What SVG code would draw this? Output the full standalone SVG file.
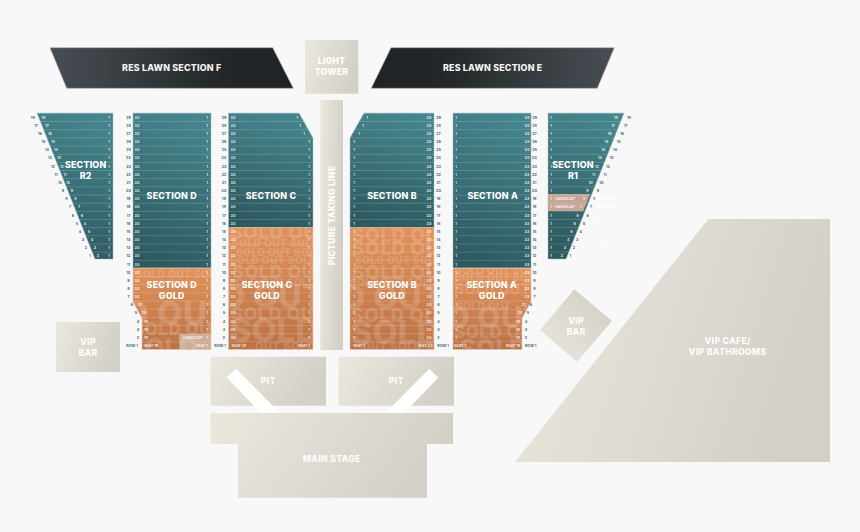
<svg xmlns="http://www.w3.org/2000/svg" width="860" height="532" viewBox="0 0 860 532">
<style>
text{font-family:"Inter","Open Sans","Liberation Sans",sans-serif;font-weight:800;text-anchor:middle}
.l{fill:#fff;font-size:8.9px;letter-spacing:.2px}
.s{fill:#fff;font-size:8.6px;letter-spacing:.3px}
.d{fill:#fff;opacity:.95;font-size:8.7px;letter-spacing:.3px}
.rl{fill:#f4f4f2;font-size:8.9px;letter-spacing:.2px}
.so{fill:#fff;opacity:.15;font-weight:800;text-anchor:start;letter-spacing:.5px}
.o text{fill:#4a6a70;font-size:3.7px;font-weight:700}
.i text{fill:#fff;font-size:3.7px;font-weight:700;opacity:.8}
.f text{fill:#fff;font-size:3.7px;font-weight:700}
.t{fill:url(#teal);stroke:#9cbcc0;stroke-width:.5}
.g{fill:url(#gold);stroke:#ecc6aa;stroke-width:.5}
.b{fill:url(#beige)}
.lines{fill:url(#rows)}
</style>
<defs>
<linearGradient id="teal" x1=".6" y1="0" x2=".4" y2="1"><stop offset="0" stop-color="#45858d"/><stop offset="1" stop-color="#2d595f"/></linearGradient>
<linearGradient id="gold" x1=".5" y1="0" x2=".5" y2="1"><stop offset="0" stop-color="#e1925c"/><stop offset="1" stop-color="#bc7346"/></linearGradient>
<linearGradient id="beige" x1="0" y1="0" x2="1" y2=".25"><stop offset="0" stop-color="#ebe9de"/><stop offset="1" stop-color="#d3d0c8"/></linearGradient>
<linearGradient id="beige2" x1="0" y1="1" x2="1" y2="0"><stop offset="0" stop-color="#ebe9de"/><stop offset="1" stop-color="#cfccc4"/></linearGradient>
<linearGradient id="lawnF" x1="0" y1="0" x2="1" y2="0"><stop offset="0" stop-color="#474e53"/><stop offset=".7" stop-color="#232729"/><stop offset="1" stop-color="#202325"/></linearGradient>
<linearGradient id="lawnE" x1="0" y1="0" x2="1" y2="0"><stop offset="0" stop-color="#202325"/><stop offset=".3" stop-color="#232729"/><stop offset="1" stop-color="#474e53"/></linearGradient>
<pattern id="rows" patternUnits="userSpaceOnUse" width="10" height="8.16" y="6.86"><rect width="10" height=".6" fill="#fff" fill-opacity=".26"/></pattern>
<clipPath id="cD"><polygon points="133,268 211,268 211,349.5 142,349.5 142,318 133,302"/></clipPath>
<clipPath id="cC"><rect x="228.5" y="227.5" width="84.5" height="122"/></clipPath>
<clipPath id="cB"><rect x="350" y="227.5" width="84" height="122"/></clipPath>
<clipPath id="cA"><polygon points="453,268 531,268 531,302 522,318 522,349.5 453,349.5"/></clipPath>
</defs>
<rect width="860" height="532" fill="#f8f8f8"/>

<g id="lawn-f"><polygon points="50,47.7 272.7,47.7 293.3,88.3 66.7,88.3" fill="url(#lawnF)" stroke="#a9abac" stroke-width=".6"/><text class="rl" x="171.7" y="70.7">RES LAWN SECTION F</text></g>
<g id="lawn-e"><polygon points="391,47.7 614.3,47.7 597.3,88.3 371.3,88.3" fill="url(#lawnE)" stroke="#a9abac" stroke-width=".6"/><text class="rl" x="492.7" y="70.7">RES LAWN SECTION E</text></g>
<g id="light-tower"><rect class="b" x="305" y="40" width="53.3" height="53.7"/><text class="s" x="331.5" y="64">LIGHT</text><text class="s" x="331.5" y="74.7">TOWER</text></g>
<g id="picture-line"><rect class="b" x="320.3" y="100" width="22.7" height="250"/><text class="s" transform="translate(335.3 215.5) rotate(-90)" x="0" y="0">PICTURE TAKING LINE</text></g>

<g id="section-r2"><polygon class="t" points="37,113 113,113 113,259 95,259"/><polygon class="lines" points="37,113 113,113 113,259 95,259"/><text class="l" x="85.7" y="168">SECTION</text><text class="l" x="85.7" y="178.5">R2</text>
<g class="o"><text x="32.8" y="118.6">18</text><text x="36" y="126.8">17</text><text x="40" y="134.9">16</text><text x="43.5" y="143.1">15</text><text x="47" y="151.2">14</text><text x="50" y="159.4">13</text><text x="53" y="167.6">12</text><text x="56" y="175.7">11</text><text x="60" y="183.9">10</text><text x="63" y="192">9</text><text x="66.5" y="200.2">8</text><text x="70" y="208.4">7</text><text x="73" y="216.5">6</text><text x="77" y="224.7">5</text><text x="80" y="232.8">4</text><text x="83" y="241">3</text><text x="86" y="249.2">2</text><text x="90" y="257.3">1</text></g>
<g class="i"><text x="43.5" y="118.6">18</text><text x="47" y="126.8">17</text><text x="50" y="134.9">16</text><text x="53" y="143.1">15</text><text x="56" y="151.2">14</text><text x="59" y="159.4">13</text><text x="62" y="167.6">12</text><text x="65" y="175.7">11</text><text x="68" y="183.9">10</text><text x="72" y="192">9</text><text x="75.5" y="200.2">8</text><text x="79" y="208.4">7</text><text x="82" y="216.5">6</text><text x="85" y="224.7">4</text><text x="89" y="232.8">5</text><text x="92" y="241">4</text><text x="95" y="249.2">3</text><text x="98" y="257.3">2</text>
<text x="109" y="118.6">1</text><text x="109" y="126.8">1</text><text x="109" y="134.9">1</text><text x="109" y="143.1">1</text><text x="109" y="151.2">1</text><text x="109" y="159.4">1</text><text x="109" y="167.6">1</text><text x="109" y="175.7">1</text><text x="109" y="183.9">1</text><text x="109" y="192">1</text><text x="109" y="200.2">1</text><text x="109" y="208.4">1</text><text x="109" y="216.5">1</text><text x="109" y="224.7">1</text><text x="109" y="232.8">1</text><text x="109" y="241">1</text><text x="109" y="249.2">1</text><text x="109" y="257.3">1</text></g></g>

<g id="section-r1"><polygon class="t" points="548,113 624,113 566,259 548,259"/><polygon points="548,194 590.2,194 583.4,211 548,211" fill="#c4a596"/><polygon class="lines" points="548,113 624,113 566,259 548,259"/><text class="l" x="573" y="168">SECTION</text><text class="l" x="573" y="178.5">R1</text>
<g class="o"><text x="629" y="118.6">18</text><text x="625.5" y="126.8">17</text><text x="622" y="134.9">16</text><text x="618.7" y="143.1">15</text><text x="615" y="151.2">14</text><text x="611.5" y="159.4">13</text><text x="608" y="167.6">12</text><text x="605" y="175.7">11</text><text x="601.4" y="183.9">10</text><text x="598" y="192">9</text><text x="594.5" y="200.2">8</text><text x="591" y="208.4">7</text><text x="587.6" y="216.5">6</text><text x="584" y="224.7">5</text><text x="580.7" y="232.8">4</text><text x="577.2" y="241">3</text><text x="573.8" y="249.2">2</text><text x="570.3" y="257.3">1</text></g>
<g class="i"><text x="616" y="118.6">18</text><text x="613" y="126.8">17</text><text x="609.6" y="134.9">16</text><text x="606.5" y="143.1">15</text><text x="603.3" y="151.2">14</text><text x="600" y="159.4">13</text><text x="597" y="167.6">12</text><text x="593.7" y="175.7">11</text><text x="590.6" y="183.9">10</text><text x="587.4" y="192">9</text><text x="584.2" y="200.2">8</text><text x="581" y="208.4">7</text><text x="577.8" y="216.5">6</text><text x="574.7" y="224.7">6</text><text x="571.5" y="232.8">5</text><text x="568.3" y="241">4</text><text x="565" y="249.2">3</text><text x="562" y="257.3">2</text>
<text x="551" y="118.6">1</text><text x="551" y="126.8">1</text><text x="551" y="134.9">1</text><text x="551" y="143.1">1</text><text x="551" y="151.2">1</text><text x="551" y="159.4">1</text><text x="551" y="167.6">1</text><text x="551" y="175.7">1</text><text x="551" y="183.9">1</text><text x="551" y="192">1</text><text x="551" y="200.2">1</text><text x="551" y="208.4">1</text><text x="551" y="216.5">1</text><text x="551" y="224.7">1</text><text x="551" y="232.8">1</text><text x="551" y="241">1</text><text x="551" y="249.2">1</text><text x="551" y="257.3">1</text>
<text x="565" y="200.2">HANDICAP</text><text x="565" y="208.4">HANDICAP</text></g>
<g class="f"><text x="605" y="200.2">HANDICAP</text><text x="605" y="208.4">HANDICAP</text><text x="594" y="216.5">6</text><text x="597" y="224.7">5</text><text x="600" y="232.8">4</text><text x="603" y="241">3</text><text x="606.5" y="249.2">2</text></g></g>

<g id="section-d"><polygon class="t" points="133,113 211,113 211,268 133,268"/><polygon class="g" points="133,268 211,268 211,349.5 142,349.5 142,318 133,302"/>
<g clip-path="url(#cD)"><text class="so" x="136" y="278" font-size="10">SOLD OUT SOLD</text><text class="so" x="125" y="325" font-size="33">D OUT</text><text class="so" x="133" y="335" font-size="17">SOLD OUT</text><text class="so" x="145" y="356" font-size="25">OLD</text></g>
<polygon class="lines" points="133,113 211,113 211,349.5 142,349.5 142,318 133,302"/><rect x="179.3" y="334" width="31.7" height="15.5" fill="#d8d4cf" opacity=".6"/>
<text class="l" x="171.7" y="199">SECTION D</text><text class="l" x="171.7" y="288">SECTION D</text><text class="l" x="171.7" y="299">GOLD</text>
<g class="o"><text x="128.5" y="118.6">29</text><text x="128.5" y="126.8">28</text><text x="128.5" y="134.9">27</text><text x="128.5" y="143.1">26</text><text x="128.5" y="151.2">25</text><text x="128.5" y="159.4">24</text><text x="128.5" y="167.6">23</text><text x="128.5" y="175.7">22</text><text x="128.5" y="183.9">21</text><text x="128.5" y="192">20</text><text x="128.5" y="200.2">19</text><text x="128.5" y="208.4">18</text><text x="128.5" y="216.5">17</text><text x="128.5" y="224.7">16</text><text x="128.5" y="232.8">15</text><text x="128.5" y="241">14</text><text x="128.5" y="249.2">13</text><text x="128.5" y="257.3">12</text><text x="128.5" y="265.5">11</text><text x="128.5" y="273.6">10</text><text x="128.5" y="281.8">9</text><text x="128.5" y="290">8</text><text x="128.5" y="298.1">7</text><text x="132" y="306.3">6</text><text x="136" y="314.4">5</text><text x="138" y="322.6">4</text><text x="138" y="330.8">3</text><text x="138" y="338.9">2</text><text x="132" y="347.1">ROW 1</text></g>
<g class="i"><text x="137" y="118.6">33</text><text x="137" y="126.8">33</text><text x="137" y="134.9">33</text><text x="137" y="143.1">33</text><text x="137" y="151.2">33</text><text x="137" y="159.4">33</text><text x="137" y="167.6">33</text><text x="137" y="175.7">33</text><text x="137" y="183.9">33</text><text x="137" y="192">33</text><text x="137" y="200.2">33</text><text x="137" y="208.4">33</text><text x="137" y="216.5">33</text><text x="137" y="224.7">33</text><text x="137" y="232.8">33</text><text x="137" y="241">33</text><text x="137" y="249.2">33</text><text x="137" y="257.3">33</text><text x="137" y="265.5">33</text><text x="137" y="273.6">33</text><text x="137" y="281.8">33</text><text x="137" y="290">33</text><text x="137" y="298.1">33</text><text x="140" y="306.3">21</text><text x="144" y="314.4">20</text><text x="146" y="322.6">19</text><text x="146" y="330.8">19</text><text x="146" y="338.9">19</text><text x="151" y="347.1">SEAT 19</text>
<text x="207" y="118.6">1</text><text x="207" y="126.8">1</text><text x="207" y="134.9">1</text><text x="207" y="143.1">1</text><text x="207" y="151.2">1</text><text x="207" y="159.4">1</text><text x="207" y="167.6">1</text><text x="207" y="175.7">1</text><text x="207" y="183.9">1</text><text x="207" y="192">1</text><text x="207" y="200.2">1</text><text x="207" y="208.4">1</text><text x="207" y="216.5">1</text><text x="207" y="224.7">1</text><text x="207" y="232.8">1</text><text x="207" y="241">1</text><text x="207" y="249.2">1</text><text x="207" y="257.3">1</text><text x="207" y="265.5">1</text><text x="207" y="273.6">1</text><text x="207" y="281.8">1</text><text x="207" y="290">1</text><text x="207" y="298.1">1</text><text x="207" y="306.3">1</text><text x="207" y="314.4">1</text><text x="207" y="322.6">1</text><text x="207" y="330.8">1</text><text x="207" y="338.9">1</text><text x="192.7" y="338.9">HANDICAP</text><text x="202" y="347.1">SEAT 1</text></g></g>

<g id="section-c"><polygon class="t" points="228.5,113 299,113 313,138 313,228 228.5,228"/><rect class="g" x="228.5" y="227.5" width="84.5" height="122"/>
<g clip-path="url(#cC)"><text class="so" x="230" y="239" font-size="19">SOLD OUT</text><text class="so" x="232" y="246.5" font-size="10">SOLD OUT SOLD OUT</text><text class="so" x="236" y="255.5" font-size="10">SOLD OUT SOLD OUT</text><text class="so" x="230" y="263.5" font-size="10">SOLD OUT SOLD OUT</text><text class="so" x="232" y="278" font-size="18">SOLD OUT</text><text class="so" x="229" y="285.5" font-size="10">SOLD OUT SOLD OUT</text><text class="so" x="222" y="308" font-size="32">D OUT</text><text class="so" x="231" y="320" font-size="18">SOLD OUT</text><text class="so" x="230" y="342" font-size="32">SOLD O</text><text class="so" x="255" y="350" font-size="11">OUT SOLD OUT</text></g>
<polygon class="lines" points="228.5,113 299,113 313,138 313,349.5 228.5,349.5"/>
<text class="l" x="271" y="199">SECTION C</text><text class="l" x="267" y="288">SECTION C</text><text class="l" x="267" y="299">GOLD</text>
<g class="o"><text x="224" y="118.6">29</text><text x="224" y="126.8">28</text><text x="224" y="134.9">27</text><text x="224" y="143.1">26</text><text x="224" y="151.2">25</text><text x="224" y="159.4">24</text><text x="224" y="167.6">23</text><text x="224" y="175.7">22</text><text x="224" y="183.9">21</text><text x="224" y="192">20</text><text x="224" y="200.2">19</text><text x="224" y="208.4">18</text><text x="224" y="216.5">17</text><text x="224" y="224.7">16</text><text x="224" y="232.8">15</text><text x="224" y="241">14</text><text x="224" y="249.2">13</text><text x="224" y="257.3">12</text><text x="224" y="265.5">11</text><text x="224" y="273.6">10</text><text x="224" y="281.8">9</text><text x="224" y="290">8</text><text x="224" y="298.1">7</text><text x="224" y="306.3">6</text><text x="224" y="314.4">5</text><text x="224" y="322.6">4</text><text x="224" y="330.8">3</text><text x="224" y="338.9">2</text><text x="220" y="347.1">ROW 1</text></g>
<g class="i"><text x="233" y="118.6">33</text><text x="233" y="126.8">33</text><text x="233" y="134.9">33</text><text x="233" y="143.1">33</text><text x="233" y="151.2">33</text><text x="233" y="159.4">33</text><text x="233" y="167.6">33</text><text x="233" y="175.7">33</text><text x="233" y="183.9">33</text><text x="233" y="192">33</text><text x="233" y="200.2">33</text><text x="233" y="208.4">33</text><text x="233" y="216.5">33</text><text x="233" y="224.7">33</text><text x="233" y="232.8">33</text><text x="233" y="241">33</text><text x="233" y="249.2">33</text><text x="233" y="257.3">33</text><text x="233" y="265.5">33</text><text x="233" y="273.6">33</text><text x="233" y="281.8">33</text><text x="233" y="290">33</text><text x="233" y="298.1">33</text><text x="233" y="306.3">33</text><text x="233" y="314.4">33</text><text x="233" y="322.6">33</text><text x="233" y="330.8">33</text><text x="233" y="338.9">33</text><text x="239" y="347.1">SEAT 37</text>
<text x="297" y="118.6">1</text><text x="300" y="126.8">1</text><text x="304" y="134.9">1</text><text x="309" y="143.1">1</text><text x="309" y="151.2">1</text><text x="309" y="159.4">1</text><text x="309" y="167.6">1</text><text x="309" y="175.7">1</text><text x="309" y="183.9">1</text><text x="309" y="192">1</text><text x="309" y="200.2">1</text><text x="309" y="208.4">1</text><text x="309" y="216.5">1</text><text x="309" y="224.7">1</text><text x="309" y="232.8">1</text><text x="309" y="241">1</text><text x="309" y="249.2">1</text><text x="309" y="257.3">1</text><text x="309" y="265.5">1</text><text x="309" y="273.6">1</text><text x="309" y="281.8">1</text><text x="309" y="290">1</text><text x="309" y="298.1">1</text><text x="309" y="306.3">1</text><text x="309" y="314.4">1</text><text x="309" y="322.6">1</text><text x="309" y="330.8">1</text><text x="309" y="338.9">1</text><text x="304" y="347.1">SEAT 1</text></g></g>

<g id="section-b"><polygon class="t" points="364,113 434,113 434,228 350,228 350,138"/><rect class="g" x="350" y="227.5" width="84" height="122"/>
<g clip-path="url(#cB)"><text class="so" x="352" y="242" font-size="19">SOLD OUT</text><text class="so" x="352" y="255" font-size="19">SOLD OUT</text><text class="so" x="355" y="263.5" font-size="10">SOLD OUT SOLD OUT</text><text class="so" x="352" y="279" font-size="19">SOLD OUT</text><text class="so" x="350" y="285.5" font-size="10">SOLD OUT SOLD OUT</text><text class="so" x="342" y="309" font-size="32">D OUT</text><text class="so" x="351" y="322" font-size="19">SOLD OUT</text><text class="so" x="351" y="344" font-size="32">SOLD O</text><text class="so" x="362" y="350" font-size="11">OUT SOLD OUT</text></g>
<polygon class="lines" points="364,113 434,113 434,349.5 350,349.5 350,138"/>
<text class="l" x="392" y="199">SECTION B</text><text class="l" x="392" y="288">SECTION B</text><text class="l" x="392" y="299">GOLD</text>
<g class="o"><text x="438.5" y="118.6">29</text><text x="438.5" y="126.8">28</text><text x="438.5" y="134.9">27</text><text x="438.5" y="143.1">26</text><text x="438.5" y="151.2">25</text><text x="438.5" y="159.4">24</text><text x="438.5" y="167.6">23</text><text x="438.5" y="175.7">22</text><text x="438.5" y="183.9">21</text><text x="438.5" y="192">20</text><text x="438.5" y="200.2">19</text><text x="438.5" y="208.4">18</text><text x="438.5" y="216.5">17</text><text x="438.5" y="224.7">16</text><text x="438.5" y="232.8">15</text><text x="438.5" y="241">14</text><text x="438.5" y="249.2">13</text><text x="438.5" y="257.3">12</text><text x="438.5" y="265.5">11</text><text x="438.5" y="273.6">10</text><text x="438.5" y="281.8">9</text><text x="438.5" y="290">8</text><text x="438.5" y="298.1">7</text><text x="438.5" y="306.3">6</text><text x="438.5" y="314.4">5</text><text x="438.5" y="322.6">4</text><text x="438.5" y="330.8">3</text><text x="438.5" y="338.9">2</text><text x="443" y="347.1">ROW 1</text></g>
<g class="i"><text x="429" y="118.6">33</text><text x="429" y="126.8">33</text><text x="429" y="134.9">33</text><text x="429" y="143.1">33</text><text x="429" y="151.2">33</text><text x="429" y="159.4">33</text><text x="429" y="167.6">33</text><text x="429" y="175.7">33</text><text x="429" y="183.9">33</text><text x="429" y="192">33</text><text x="429" y="200.2">33</text><text x="429" y="208.4">33</text><text x="429" y="216.5">33</text><text x="429" y="224.7">33</text><text x="429" y="232.8">33</text><text x="429" y="241">33</text><text x="429" y="249.2">33</text><text x="429" y="257.3">33</text><text x="429" y="265.5">33</text><text x="429" y="273.6">33</text><text x="429" y="281.8">33</text><text x="429" y="290">33</text><text x="429" y="298.1">33</text><text x="429" y="306.3">33</text><text x="429" y="314.4">33</text><text x="429" y="322.6">33</text><text x="429" y="330.8">33</text><text x="429" y="338.9">33</text><text x="425" y="347.1">SEAT 33</text>
<text x="367" y="118.6">1</text><text x="363" y="126.8">1</text><text x="359" y="134.9">1</text><text x="354" y="143.1">1</text><text x="354" y="151.2">1</text><text x="354" y="159.4">1</text><text x="354" y="167.6">1</text><text x="354" y="175.7">1</text><text x="354" y="183.9">1</text><text x="354" y="192">1</text><text x="354" y="200.2">1</text><text x="354" y="208.4">1</text><text x="354" y="216.5">1</text><text x="354" y="224.7">1</text><text x="354" y="232.8">1</text><text x="354" y="241">1</text><text x="354" y="249.2">1</text><text x="354" y="257.3">1</text><text x="354" y="265.5">1</text><text x="354" y="273.6">1</text><text x="354" y="281.8">1</text><text x="354" y="290">1</text><text x="354" y="298.1">1</text><text x="354" y="306.3">1</text><text x="354" y="314.4">1</text><text x="354" y="322.6">1</text><text x="354" y="330.8">1</text><text x="354" y="338.9">1</text><text x="359" y="347.1">SEAT 1</text></g></g>

<g id="section-a"><polygon class="t" points="453,113 531,113 531,268 453,268"/><polygon class="g" points="453,268 531,268 531,302 522,318 522,349.5 453,349.5"/>
<g clip-path="url(#cA)"><text class="so" x="455" y="274" font-size="10">SOLD OUT SOLD</text><text class="so" x="455" y="281" font-size="10">SOLD OUT SOLD</text><text class="so" x="455" y="294" font-size="14">SOLD OUT</text><text class="so" x="456" y="310" font-size="10">SOLD OUT</text><text class="so" x="448" y="328" font-size="30">D OUT</text><text class="so" x="454" y="338" font-size="17">SOLD OUT</text><text class="so" x="460" y="357" font-size="24">SOLD</text></g>
<polygon class="lines" points="453,113 531,113 531,302 522,318 522,349.5 453,349.5"/>
<text class="l" x="492.7" y="199">SECTION A</text><text class="l" x="491.7" y="288">SECTION A</text><text class="l" x="491.7" y="299">GOLD</text>
<g class="o"><text x="534.5" y="118.6">29</text><text x="534.5" y="126.8">28</text><text x="534.5" y="134.9">27</text><text x="534.5" y="143.1">26</text><text x="534.5" y="151.2">25</text><text x="534.5" y="159.4">24</text><text x="534.5" y="167.6">23</text><text x="534.5" y="175.7">22</text><text x="534.5" y="183.9">21</text><text x="534.5" y="192">20</text><text x="534.5" y="200.2">19</text><text x="534.5" y="208.4">18</text><text x="534.5" y="216.5">17</text><text x="534.5" y="224.7">16</text><text x="534.5" y="232.8">15</text><text x="534.5" y="241">14</text><text x="534.5" y="249.2">13</text><text x="534.5" y="257.3">12</text><text x="534.5" y="265.5">11</text><text x="534.5" y="273.6">10</text><text x="534.5" y="281.8">9</text><text x="534.5" y="290">8</text><text x="534.5" y="298.1">7</text><text x="531" y="306.3">6</text><text x="528" y="314.4">5</text><text x="526" y="322.6">4</text><text x="526" y="330.8">3</text><text x="526" y="338.9">2</text><text x="530.7" y="347.1">ROW 1</text></g>
<g class="i"><text x="527" y="118.6">33</text><text x="527" y="126.8">33</text><text x="527" y="134.9">33</text><text x="527" y="143.1">33</text><text x="527" y="151.2">33</text><text x="527" y="159.4">33</text><text x="527" y="167.6">33</text><text x="527" y="175.7">33</text><text x="527" y="183.9">33</text><text x="527" y="192">33</text><text x="527" y="200.2">33</text><text x="527" y="208.4">33</text><text x="527" y="216.5">33</text><text x="527" y="224.7">33</text><text x="527" y="232.8">33</text><text x="527" y="241">33</text><text x="527" y="249.2">33</text><text x="527" y="257.3">33</text><text x="527" y="265.5">33</text><text x="527" y="273.6">33</text><text x="527" y="281.8">33</text><text x="527" y="290">33</text><text x="527" y="298.1">33</text><text x="524" y="306.3">21</text><text x="520" y="314.4">20</text><text x="518" y="322.6">19</text><text x="518" y="330.8">19</text><text x="518" y="338.9">19</text><text x="513" y="347.1">SEAT 19</text>
<text x="456" y="118.6">1</text><text x="456" y="126.8">1</text><text x="456" y="134.9">1</text><text x="456" y="143.1">1</text><text x="456" y="151.2">1</text><text x="456" y="159.4">1</text><text x="456" y="167.6">1</text><text x="456" y="175.7">1</text><text x="456" y="183.9">1</text><text x="456" y="192">1</text><text x="456" y="200.2">1</text><text x="456" y="208.4">1</text><text x="456" y="216.5">1</text><text x="456" y="224.7">1</text><text x="456" y="232.8">1</text><text x="456" y="241">1</text><text x="456" y="249.2">1</text><text x="456" y="257.3">1</text><text x="456" y="265.5">1</text><text x="456" y="273.6">1</text><text x="456" y="281.8">1</text><text x="456" y="290">1</text><text x="456" y="298.1">1</text><text x="456" y="306.3">1</text><text x="456" y="314.4">1</text><text x="456" y="322.6">1</text><text x="456" y="330.8">1</text><text x="456" y="338.9">1</text><text x="460" y="347.1">SEAT 1</text></g></g>

<g id="vip-bar-left"><rect class="b" x="56" y="322" width="64" height="50"/><text class="d" x="88" y="345">VIP</text><text class="d" x="88" y="356">BAR</text></g>
<g id="vip-bar-right"><polygon points="574.3,289.3 612,321 577,361.7 540,330" fill="url(#beige2)"/><text class="d" x="576" y="324">VIP</text><text class="d" x="576" y="335">BAR</text></g>
<g id="vip-cafe"><polygon class="b" points="708.3,219 830,219 830,462 515,462"/><text class="d" x="727.7" y="344.3">VIP CAFE/</text><text class="d" x="727.7" y="355">VIP BATHROOMS</text></g>

<g id="pit-left"><rect class="b" x="210.3" y="356.7" width="115.7" height="49"/><polygon points="226.7,377.3 236,368.7 280,413 260.7,413" fill="#fff"/><text class="d" x="268.3" y="383.5">PIT</text></g>
<g id="pit-right"><rect class="b" x="338.3" y="356.7" width="115.7" height="49"/><polygon points="429.3,368.7 438.3,377.7 404,413 385.3,413" fill="#fff"/><text class="d" x="396.3" y="383.5">PIT</text></g>
<g id="main-stage"><polygon class="b" points="210.3,413 453,413 453,444 427,444 427,497.7 238,497.7 238,444 210.3,444"/><text class="d" x="331.7" y="462">MAIN STAGE</text></g>
</svg>
